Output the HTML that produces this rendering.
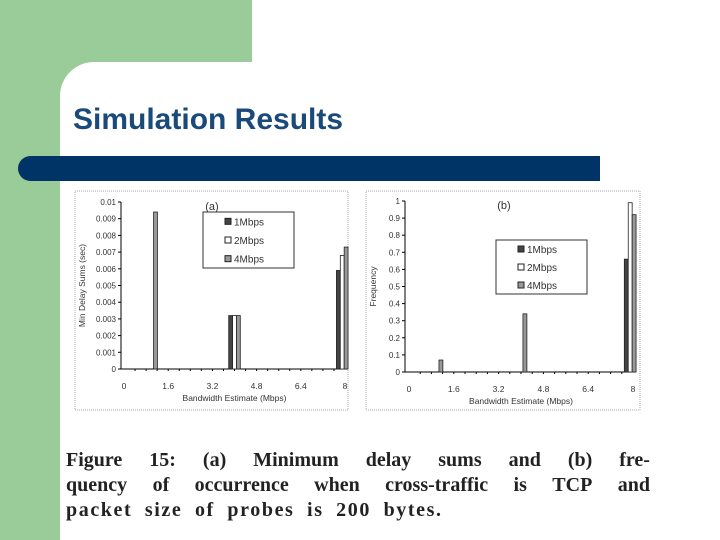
<!DOCTYPE html>
<html><head><meta charset="utf-8">
<style>
body{margin:0;width:720px;height:540px;overflow:hidden;background:#fff;font-family:"Liberation Sans",sans-serif;position:relative}
.abs{position:absolute}
.cl{width:584px;text-align:justify;text-align-last:justify;height:25px;white-space:nowrap}
</style></head><body>
<div class="abs" style="left:0;top:0;width:60px;height:540px;background:#99cc99"></div>
<div class="abs" style="left:0;top:0;width:252px;height:62px;background:#99cc99"></div>
<div class="abs" style="left:60px;top:62px;width:40px;height:40px;background:#99cc99"></div>
<div class="abs" style="left:60px;top:62px;width:80px;height:80px;background:#fff;border-top-left-radius:34px"></div>
<div class="abs" style="left:73px;top:103px;font-size:30px;font-weight:bold;color:#1a4a7a">Simulation Results</div>
<div class="abs" style="left:18px;top:156px;width:582px;height:25px;background:#003366;border-radius:13px 0 0 13px"></div>
<svg class="abs" style="left:0;top:0" width="720" height="540" id="svg"></svg>
<div class="abs" style="left:66px;top:448px;font-family:'Liberation Serif',serif;font-size:20px;font-weight:bold;line-height:25px;color:#222">
<div class="cl" style="display:flex;justify-content:space-between"><span>Figure</span><span>15:</span><span>(a)</span><span>Minimum</span><span>delay</span><span>sums</span><span>and</span><span>(b)</span><span>fre-</span></div>
<div class="cl" style="display:flex;justify-content:space-between"><span>quency</span><span>of</span><span>occurrence</span><span>when</span><span>cross-traffic</span><span>is</span><span>TCP</span><span>and</span></div>
<div style="white-space:nowrap;letter-spacing:1.6px;word-spacing:6px">packet size of probes is 200 bytes.</div>
</div>
<script>
const groupsA=[1.0,4.0,7.9];
const a1=[0,0.0032,0.0059];
const a2=[0,0.0032,0.0068];
const a3=[0.0094,0.0032,0.0073];
const yTicksA=["0","0.001","0.002","0.003","0.004","0.005","0.006","0.007","0.008","0.009","0.01"];
const xTicks=["0","1.6","3.2","4.8","6.4","8"];
const groupsB=[1.0,4.0,7.9];
const b1=[0,0,0.66];
const b2=[0,0,0.99];
const b3=[0.07,0.34,0.92];
const yTicksB=["0","0.1","0.2","0.3","0.4","0.5","0.6","0.7","0.8","0.9","1"];
const legendLabelsA=["1Mbps","2Mbps","4Mbps"];
const legendLabelsB=["1Mbps","2Mbps","4Mbps"];
const NS="http://www.w3.org/2000/svg";
const svg=document.getElementById('svg');
function mk(t,at,p){const e=document.createElementNS(NS,t);for(const k in at)e.setAttribute(k,at[k]);(p||svg).appendChild(e);return e;}
function txt(x,y,s,sz,anchor,p){const e=mk('text',{x:x,y:y,'font-size':sz,'text-anchor':anchor||'start',fill:'#333','font-family':'Liberation Sans, sans-serif'},p);e.textContent=s;return e;}
const fills=['#444','#fff','#999'];
function chart(o){
  const g=mk('g',{});
  
  
  const fr=mk('rect',{x:o.box[0],y:o.box[1],width:o.box[2],height:o.box[3],fill:'#fff',stroke:'#aaa','stroke-dasharray':'1,1'},g);
  
  const X=v=>o.x0+(o.x1-o.x0)*v/8;
  const Y=v=>o.y0-(o.y0-o.y1)*v/o.ymax;
  mk('line',{x1:o.ax,y1:o.y1,x2:o.ax,y2:o.y0,stroke:'#000'},g);
  mk('line',{x1:o.ax,y1:o.y0,x2:X(8.1),y2:o.y0,stroke:'#000'},g);
  o.yt.forEach((s,i)=>{const v=o.ymax*i/(o.yt.length-1);mk('line',{x1:o.ax-3,y1:Y(v),x2:o.ax,y2:Y(v),stroke:'#000'},g);const t=txt(o.ax-5,Y(v)+3,s,8,'end',g);});
  xTicks.forEach((s,i)=>{const v=1.6*i;const t=txt(X(v),o.y0+20,s,8.5,'middle',g);});
  for(let v=0.4;v<8;v+=0.4)mk('line',{x1:X(v),y1:o.y0,x2:X(v),y2:o.y0+2,stroke:'#000'},g);
  const xt=txt((o.x0+o.x1)/2,o.y0+32,'Bandwidth Estimate (Mbps)',8.5,'middle',g);
  const yt=txt(0,0,o.ylab,8.5,'middle',g);yt.setAttribute('transform',`translate(${o.box[0]+10},${(o.y0+o.y1)/2}) rotate(-90)`);
  const pl=txt(o.plx,o.y1+8,o.panel,11,'middle',g);
  const bw=(o.x1-o.x0)*0.14/8;
  [o.s1,o.s2,o.s3].forEach((ser,si)=>{ser.forEach((v,gi)=>{if(v<=0)return;const x=X(o.groups[gi])+(si-1)*bw;const r=mk('rect',{x:x-bw/2,y:Y(v),width:bw,height:o.y0-Y(v),fill:fills[si],stroke:'#222','stroke-width':0.8},g);});});
  const L=o.leg;const lg=mk('g',{},g);
  mk('rect',{x:L[0],y:L[1],width:L[2],height:L[3],fill:'#fff',stroke:'#333'},lg);
  o.ll.forEach((s,i)=>{const yy=L[1]+L[3]*(i+0.5)/3;mk('rect',{x:L[0]+22,y:yy-3,width:6,height:6,fill:fills[i],stroke:'#222'},lg);const t=txt(L[0]+31,yy+4,s,10,'start',lg);});
}
chart({name:'chart-a',box:[75,191,273,219],ax:121,x0:124,x1:345,y0:369,y1:202,ymax:0.01,yt:yTicksA,groups:groupsA,s1:a1,s2:a2,s3:a3,ylab:'Min Delay Sums (sec)',panel:'(a)',plx:212,leg:[203,212,91,56],ll:legendLabelsA});
chart({name:'chart-b',box:[366,191,274,219],ax:405,x0:409,x1:633,y0:372,y1:201,ymax:1,yt:yTicksB,groups:groupsB,s1:b1,s2:b2,s3:b3,ylab:'Frequency',panel:'(b)',plx:504,leg:[496,240,91,54],ll:legendLabelsB});
</script>
</body></html>
